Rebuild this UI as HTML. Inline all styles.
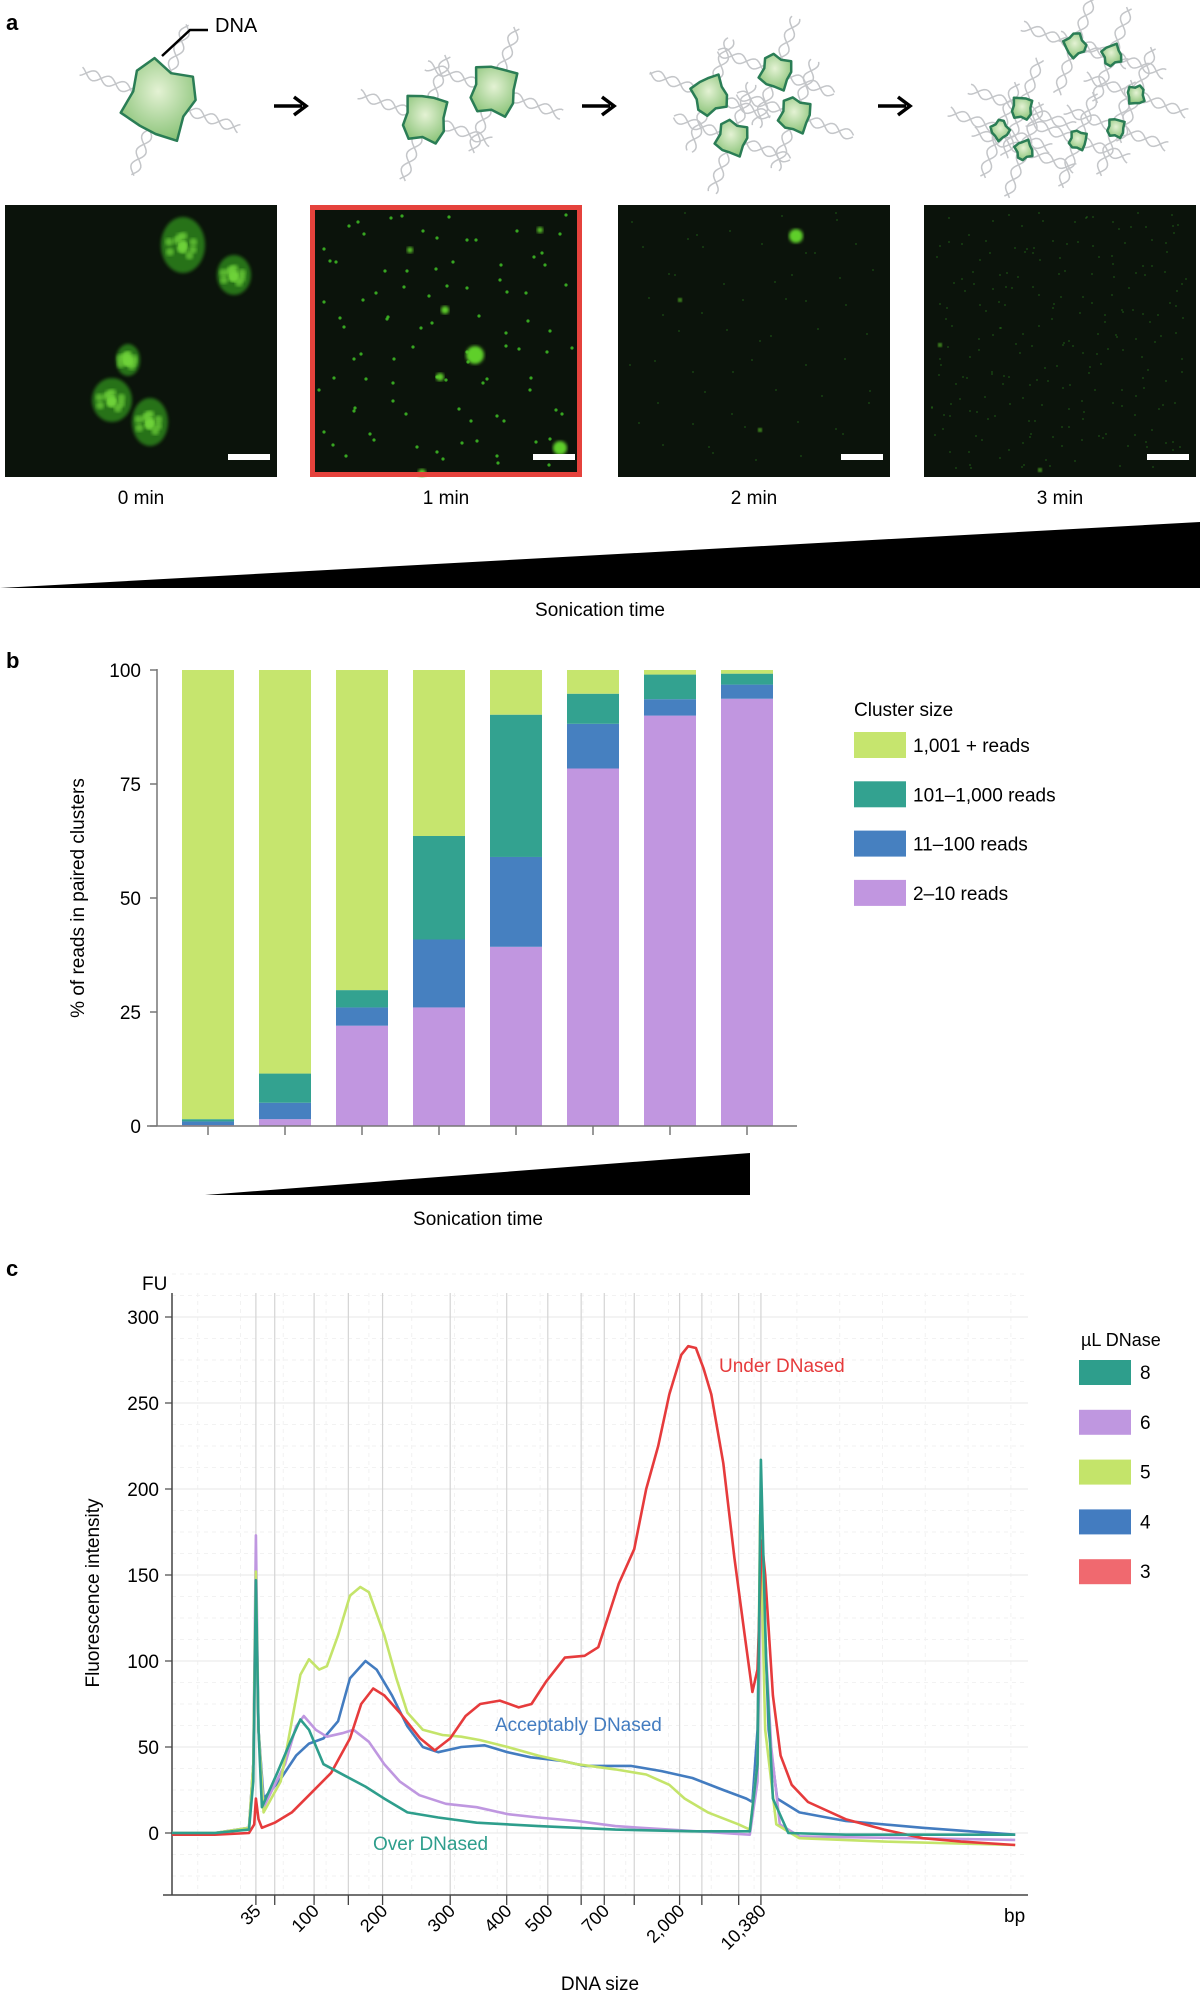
<!DOCTYPE html>
<html><head><meta charset="utf-8"><style>
body{margin:0;background:#fff;}
svg{display:block;font-family:"Liberation Sans",Arial,sans-serif;}
</style></head><body>
<svg id="fig" width="1200" height="1994" viewBox="0 0 1200 1994" xmlns="http://www.w3.org/2000/svg">
<defs>
<filter id="blur1"><feGaussianBlur stdDeviation="1.5"/></filter>
<filter id="blur2"><feGaussianBlur stdDeviation="2.5"/></filter>
<radialGradient id="blobg" cx="50%" cy="40%" r="60%"><stop offset="0" stop-color="#e4f2d4"/><stop offset="1" stop-color="#8cc47a"/></radialGradient>
</defs>
<!-- Panel a -->
<text x="6" y="30" font-size="22" font-weight="bold">a</text>
<g id="cartoon"></g>
<text x="215" y="32" font-size="20">DNA</text>
<path d="M208 30 L190 30 L162 56" stroke="#000" stroke-width="2.5" fill="none"/>
<g id="micro"></g>
<polygon points="0,588 1200,522 1200,588" fill="#000"/>
<text x="600" y="616" font-size="19" text-anchor="middle">Sonication time</text>

<!-- Panel b -->
<text x="6" y="668" font-size="22" font-weight="bold">b</text>
<g id="barchart"></g>
<polygon points="205,1195 750,1153 750,1195" fill="#000"/>
<text x="478" y="1225" font-size="19" text-anchor="middle">Sonication time</text>

<!-- Panel c -->
<text x="6" y="1276" font-size="22" font-weight="bold">c</text>
<g id="linechart"></g>
</svg>
<script>
// ---------- Panel b data ----------
const barCategories = ["t1","t2","t3","t4","t5","t6","t7","t8"];
const reads2to10 = [0.2, 1.5, 22, 26, 39.3, 78.4, 90, 93.7];
const reads11to100 = [0.8, 3.6, 4, 14.9, 19.7, 9.8, 3.6, 3.1];
const reads101to1000 = [0.5, 6.4, 3.8, 22.7, 31.2, 6.6, 5.4, 2.4];
const reads1001plus = [98.5, 88.5, 70.2, 36.4, 9.8, 5.2, 1, 0.8];
const barTicks = [0, 25, 50, 75, 100];
const seriesNames = ["1,001 +  reads","101–1,000 reads","11–100 reads","2–10 reads"];

// ---------- Panel c data (x in migration-time units 0–100) ----------
const sizeTickT = [9.8, 12.0, 16.6, 20.6, 24.6, 32.5, 39.1, 43.9, 47.8, 50.5, 54.0, 59.3, 61.9, 66.2, 68.8];
const sizeTickLabels = ["35","","100","","200","300","400","500","","700","","2,000","","","10,380"];
const fuTicks = [0, 50, 100, 150, 200, 250, 300];
const redT = [0,5,9,9.6,9.8,10.1,10.5,12,14,16,18.6,20.8,22.1,23.5,24.8,26.6,29,30.7,32.5,34.3,36,38.3,40.5,42,43.7,45.9,48.2,49.8,50.9,52.2,54,55.4,56.8,58.1,59.5,60.3,61.2,62.1,63,64.4,65.7,66.9,67.8,68.4,68.9,69.3,70.2,71.1,72.4,74.3,78.7,83.2,87.7,92.2,98.5];
const redFU = [-1,-1,0,5,20,8,3,6,12,22,35,55,75,84,80,70,55,48,55,68,75,77,73,75,88,102,103,108,125,145,165,200,225,255,278,283,282,270,255,215,160,115,82,95,170,150,80,45,28,18,8,2,-3,-5,-7];
const tealT = [0,5,9,9.5,9.8,10.1,10.5,12.3,14,15,16,17.7,20.3,22.6,24.8,27.5,31.1,35.6,42.8,51.8,60.8,67.5,68.4,68.8,69.4,70.2,72,78.7,98.5];
const tealFU = [0,0,2,30,147,60,15,35,55,66,60,40,33,27,20,12,9,6,4,2,1,1,40,217,100,20,0,-1,-1];
const purpleT = [0,5,9,9.5,9.8,10.1,10.7,13.2,14.5,15.4,16.8,18.1,19.9,21.2,23,24.8,26.6,28.9,32,35.6,39.2,42.8,47.3,51.8,58.1,67.5,68.4,68.8,70,71,73.3,98.5];
const purpleFU = [0,0,3,40,173,60,15,40,62,68,60,56,58,60,53,40,30,22,17,15,11,9,7,4,2,-1,30,160,50,5,-2,-4];
const greenT = [0,5,9,9.5,9.8,10.1,10.7,12.7,14,15,16,17.2,18.1,19.4,20.8,22,23,24.8,26.2,27.5,29.3,31.6,33.8,36,39.2,42.8,47.3,51.8,55.4,58.1,59.9,62.6,66.2,67.5,68.4,68.7,69.3,70.6,73.3,83.2,98.5];
const greenFU = [0,0,3,40,152,60,12,30,65,92,101,95,97,115,138,143,140,115,90,70,60,57,56,54,50,45,40,37,34,28,20,12,5,2,40,185,60,5,-3,-5,-7];
const blueT = [0,5,9,9.5,9.8,10.1,10.7,12.5,14.5,16,17.7,19.4,20.8,22.6,23.9,25.7,27.5,29.3,31.1,33.8,36.5,39.2,41.9,45.5,48.2,53.6,57.2,60.8,64.4,67.1,67.8,68.4,68.8,69.7,70.7,73.3,78.7,87.7,98.5];
const blueFU = [0,0,3,40,147,60,20,30,45,52,55,65,90,100,95,80,62,50,47,50,51,47,44,42,39,39,36,32,25,20,18,60,190,60,20,12,7,3,-1];
const legendDoses = ["8","6","5","4","3"];

const NS="http://www.w3.org/2000/svg";
function mk(parent,tag,attrs){const e=document.createElementNS(NS,tag);for(const k in attrs)e.setAttribute(k,attrs[k]);parent.appendChild(e);return e;}

// ---------- Panel a drawings ----------
(function(){
  const g=document.getElementById('cartoon');
  function helix(cx,cy,ang,len){
    const hg=mk(g,'g',{transform:`translate(${cx},${cy}) rotate(${ang})`});
    
    
    let d1='',d2='';
    for(let i=0;i<=len;i+=2){const y1=Math.sin(i/5)*5,y2=-Math.sin(i/5)*5;d1+=(i?'L':'M')+i+' '+y1.toFixed(1);d2+=(i?'L':'M')+i+' '+y2.toFixed(1);}
    mk(hg,'path',{d:d1,stroke:'#c4c6c9',fill:'none','stroke-width':1.5});
    mk(hg,'path',{d:d2,stroke:'#c4c6c9',fill:'none','stroke-width':1.5});
  }
  function blob(cx,cy,r){
    let d='';const n=11;
    for(let i=0;i<n;i++){const a=i/n*Math.PI*2;const rr=r*(0.85+0.18*Math.sin(i*2.3+cx));d+=(i?'L':'M')+(cx+rr*Math.cos(a)).toFixed(1)+' '+(cy+rr*Math.sin(a)*1.1).toFixed(1);}
    const b=mk(g,'path',{d:d+'Z',fill:'url(#blobg)',stroke:'#2a7d55','stroke-width':2.5,'stroke-linejoin':'round'});
    
    
  }
  const groups=[
    {b:[[160,100,40]]},
    {b:[[425,118,26],[494,90,27]]},
    {b:[[710,95,20],[776,72,18],[732,138,18],[795,115,18]]},
    {b:[[1022,108,12],[1075,45,12],[1112,55,11],[1000,130,10],[1136,95,10],[1078,140,10],[1024,150,10],[1116,128,10]]}
  ];
  groups.forEach(gr=>{gr.b.forEach(([x,y,r])=>{
    helix(x,y,-70,r+40);helix(x,y,20,r+45);helix(x,y,110,r+40);helix(x,y,200,r+45);
  });});
  groups.forEach(gr=>gr.b.forEach(([x,y,r])=>blob(x,y,r)));
  [292,600,896].forEach(x=>{
    const a=mk(g,'path',{d:`M${x-18} 106 L${x+10} 106 M${x+2} 97 L${x+14} 106 L${x+2} 115`,stroke:'#000','stroke-width':3.5,fill:'none'});
    
    
  });
  const m=document.getElementById('micro');
  const panels=[[5,'0 min'],[310,'1 min'],[618,'2 min'],[924,'3 min']];
  const blobsets=[
    [],
    [[475,355,9],[445,310,4],[440,377,4],[422,473,4],[410,250,3],[540,230,3],[560,448,7]],
    [[796,236,7],[680,300,2],[760,430,2]],
    [[940,345,2],[1040,470,2]]
  ];
  panels.forEach(([x,lab],i)=>{
    const r=mk(m,'rect',{x:x,y:205,width:272,height:272,fill:'#0b130b'});
    
    
    const dens=[0,90,60,220][i];
    for(let k=0;k<dens;k++){const px=x+8+((k*97+i*31+(k*k)%17)%256),py=213+((k*57+i*13+(k*k*3)%23)%256);
      mk(m,'circle',{cx:px,cy:py,r:i===1?1.6:0.9,fill:'#3fbf26',opacity:i===1?0.85:0.35});}
    if(i===0){
      const nuclei=[[183,245,22,28],[234,275,17,20],[112,400,20,22],[150,422,18,24],[128,360,12,16]];
      nuclei.forEach(([nx,ny,rx,ry])=>{
        mk(m,'ellipse',{cx:nx,cy:ny,rx:rx,ry:ry,fill:'#2f8a1c',opacity:0.8,filter:'url(#blur1)'});
        for(let k=0;k<14;k++){const a=k*2.4,rr=(k%5)/5;
          mk(m,'circle',{cx:nx+Math.cos(a)*rx*rr*0.8,cy:ny+Math.sin(a)*ry*rr*0.8,r:4,fill:'#6fd33a',opacity:0.7,filter:'url(#blur1)'});}
      });
    }
    blobsets[i].forEach(([bx,by,br])=>{mk(m,'circle',{cx:bx,cy:by,r:br,fill:'#5fcf2a',filter:'url(#blur1)'});});
    if(i===1){const br=mk(m,'rect',{x:x+2.5,y:207.5,width:267,height:267,fill:'none',stroke:'#e5423c','stroke-width':5});
      
      }
    const sb=mk(m,'rect',{x:x+223,y:454,width:42,height:6,fill:'#fff'});
    
    
    const t=mk(m,'text',{x:x+136,y:504,'font-size':19,'text-anchor':'middle'});t.textContent=lab;
    
    
  });
})();

// ---------- Panel b chart ----------
(function(){
  const g=document.getElementById('barchart');
  const y0=1126, pxPer=4.56;
  const yScale=v=>y0-v*pxPer;
  const xScale=i=>182+i*77;
  const bw=52;
  const colors=["#c196e0","#4680c0","#33a290","#c6e56e"];
  const stacks=[reads2to10,reads11to100,reads101to1000,reads1001plus];
  const names=["segment-2-10","segment-11-100","segment-101-1000","segment-1001-plus"];
  barCategories.forEach((c,i)=>{
    let cum=0;
    stacks.forEach((arr,s)=>{
      const v=arr[i];
      const r=mk(g,'rect',{x:xScale(i),y:yScale(cum+v),width:bw,height:Math.max(0,v*pxPer),fill:colors[s]});
      
      
      cum+=v;
    });
    const tk=mk(g,'line',{x1:xScale(i)+bw/2,x2:xScale(i)+bw/2,y1:y0,y2:1135,stroke:'#555','stroke-width':1.2});
    
    
  });
  const ax=mk(g,'line',{x1:157,x2:157,y1:669,y2:y0,stroke:'#777','stroke-width':1.5});
  
  
  const xa=mk(g,'line',{x1:147,x2:797,y1:y0,y2:y0,stroke:'#777','stroke-width':1.5});
  
  
  barTicks.forEach(v=>{
    mk(g,'line',{x1:150,x2:157,y1:yScale(v),y2:yScale(v),stroke:'#777','stroke-width':1.5});
    const t=mk(g,'text',{x:141,y:yScale(v)+7,'font-size':19,'text-anchor':'end'});t.textContent=v;
    
    
  });
  const yt=mk(g,'text',{x:0,y:0,'font-size':19,'text-anchor':'middle',transform:'translate(84,898) rotate(-90)'});
  yt.textContent='% of reads in paired clusters';
  
  
  const lt=mk(g,'text',{x:854,y:716,'font-size':19});lt.textContent='Cluster size';
  
  
  const lc=["#c6e56e","#33a290","#4680c0","#c196e0"];
  seriesNames.forEach((n,k)=>{
    const yy=732+k*49.3;
    const sw=mk(g,'rect',{x:854,y:yy,width:52,height:26,fill:lc[k]});
    
    
    const t=mk(g,'text',{x:913,y:yy+20,'font-size':19});t.textContent=n;
    
    
  });
})();

// ---------- Panel c chart ----------
(function(){
  const g=document.getElementById('linechart');
  const xL=172,xR=1028,yZero=1833,pxFU=1.72;
  const xS=t=>xL+t*(xR-xL)/100;
  const yS=v=>yZero-v*pxFU;
  for(let v=-25;v<=325;v+=12.5){mk(g,'line',{x1:xL,x2:xR,y1:yS(v),y2:yS(v),stroke:'#f2f2f2','stroke-width':1,'stroke-dasharray':'4 4'});}
  for(let t=3;t<100;t+=5){mk(g,'line',{x1:xS(t),x2:xS(t),y1:1293,y2:1895,stroke:'#f2f2f2','stroke-width':1,'stroke-dasharray':'4 4'});}
  fuTicks.forEach(v=>{
    const gl=mk(g,'line',{x1:xL,x2:xR,y1:yS(v),y2:yS(v),stroke:'#ececec','stroke-width':1.2});
    
    
    mk(g,'line',{x1:xL-7,x2:xL,y1:yS(v),y2:yS(v),stroke:'#555','stroke-width':1.3});
    const t=mk(g,'text',{x:xL-13,y:yS(v)+7,'font-size':19,'text-anchor':'end'});t.textContent=v;
    
    
  });
  sizeTickT.forEach((t,i)=>{
    const vl=mk(g,'line',{x1:xS(t),x2:xS(t),y1:1293,y2:1895,stroke:'#d4d4d4','stroke-width':1.2});
    
    
    mk(g,'line',{x1:xS(t),x2:xS(t),y1:1895,y2:1905,stroke:'#444','stroke-width':1.3});
    if(sizeTickLabels[i]){
      const tx=mk(g,'text',{x:0,y:0,'font-size':18,'text-anchor':'end',transform:`translate(${xS(t)+6},${1912}) rotate(-45)`});
      tx.textContent=sizeTickLabels[i];
      
      
    }
  });
  const ya=mk(g,'line',{x1:xL,x2:xL,y1:1293,y2:1895,stroke:'#444','stroke-width':1.5});
  
  
  const xa=mk(g,'line',{x1:163,x2:xR,y1:1895,y2:1895,stroke:'#444','stroke-width':1.5});
  
  
  const series=[
    [blueT,blueFU,'#437cc0','line-4ul'],
    [purpleT,purpleFU,'#bf97e0','line-6ul'],
    [greenT,greenFU,'#c4e46a','line-5ul'],
    [redT,redFU,'#e63b3c','line-3ul'],
    [tealT,tealFU,'#2e9e8c','line-8ul']
  ];
  series.forEach(([ts,vs,col,nm])=>{
    let d='';ts.forEach((t,i)=>{d+=(i?'L':'M')+xS(t).toFixed(1)+' '+yS(vs[i]).toFixed(1);});
    const p=mk(g,'path',{d:d,stroke:col,'stroke-width':2.6,fill:'none','stroke-linejoin':'round'});
    
    
  });
  const texts=[
    [142,1290,'FU','#000',19,'start','y-axis-unit'],
    [1004,1922,'bp','#000',19,'start','x-axis-unit'],
    [600,1990,'DNA size','#000',19,'middle','x-axis-title'],
    [719,1372,'Under DNased','#e63b3c',19,'start','annotation-under'],
    [495,1731,'Acceptably DNased','#437cc0',19,'start','annotation-acceptable'],
    [373,1850,'Over DNased','#2e9e8c',19,'start','annotation-over'],
    [1081,1346,'µL DNase','#000',18,'start','legend-title']
  ];
  texts.forEach(([x,y,s,c,fs,an,nm])=>{
    const t=mk(g,'text',{x:x,y:y,fill:c,'font-size':fs,'text-anchor':an});t.textContent=s;
    
    
  });
  const yt=mk(g,'text',{x:0,y:0,'font-size':19,'text-anchor':'middle',transform:'translate(99,1593) rotate(-90)'});
  yt.textContent='Fluorescence intensity';
  
  
  const lc=['#2e9e8c','#bf97e0','#c4e46a','#437cc0','#f0696f'];
  legendDoses.forEach((d,k)=>{
    const yy=1360+k*49.8;
    const sw=mk(g,'rect',{x:1079,y:yy,width:52,height:25,fill:lc[k]});
    
    
    const t=mk(g,'text',{x:1140,y:yy+19,'font-size':19});t.textContent=d;
    
    
  });
})();
</script>
</body></html>
